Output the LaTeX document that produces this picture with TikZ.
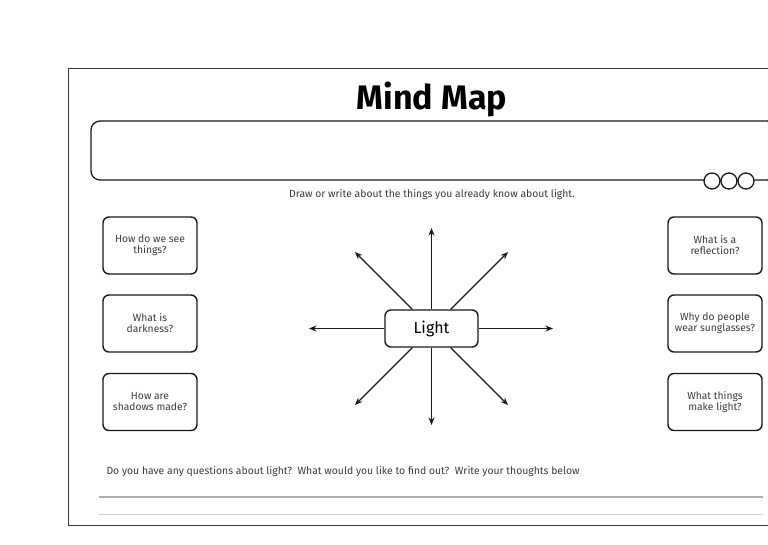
\documentclass[tikz,border=0pt]{standalone}
\usepackage{fontspec}
\setmainfont{Fira Sans}
\usepackage{xcolor}
\definecolor{cInk}{HTML}{1A1A1A}
\definecolor{cFrame}{HTML}{3A3A3A}
\definecolor{cRule}{HTML}{B0B0B0}
\usetikzlibrary{arrows.meta}
\tikzset{
  node-q/.style={draw=cInk,line width=1.4pt,rounded corners=6pt,
    minimum width=94pt,minimum height=57pt,align=center,text=cInk!85,
    font=\fontsize{10.3}{11}\selectfont},
  node-hub/.style={draw=cInk,line width=1.4pt,rounded corners=6pt,
    minimum width=93pt,minimum height=37pt,align=center,
    font=\fontsize{16}{17}\selectfont},
  node-banner/.style={draw=cInk,line width=1.3pt,rounded corners=9pt,
    minimum width=685pt,minimum height=59pt},
  node-bead/.style={draw=cInk,line width=1.3pt,fill=white,circle,
    minimum size=16pt,inner sep=0pt},
  node-note/.style={font=\fontsize{10.4}{12}\selectfont,text=cInk!85},
  arrow-ray/.style={-{Stealth[length=7.5pt,width=6pt]},line width=1.2pt,draw=cInk},
  rule-line/.style={draw=cRule,line width=1.5pt},
}

\begin{document}
\begin{tikzpicture}[x=1pt,y=-1pt]
  \clip (0,0) rectangle (768,544);
  \fill[white] (0,0) rectangle (768,544);
  % page frame, runs off on the right
  \draw[cFrame,line width=1pt] (68,68) rectangle (800,525);
  \node[anchor=base,font=\fontsize{34}{35}\selectfont\bfseries] (title) at (432,109) {Mind Map};
  \node[node-banner] (banner) at (433.5,150.5) {};
  \foreach \cx/\nm in {712/b1,729/b2,746/b3}
    \node[node-bead] (\nm) at (\cx,181) {};
  \node[node-note,anchor=base] (hint) at (432,197) {Draw or write about the things you already know about light.};

  % questions
  \node[node-q] (see) at (150,245.5) {How do we see\\things?};
  \node[node-q] (dark) at (150,323.5) {What is\\darkness?};
  \node[node-q] (shadow) at (150,402) {How are\\shadows made?};
  \node[node-q] (refl) at (715,245.5) {What is a\\reflection?};
  \node[node-q] (sun) at (715,323.5) {Why do people\\wear sunglasses?};
  \node[node-q] (make) at (715,402) {What things\\make light?};

  % centre and rays
  \node[node-hub] (light) at (431.5,328.5) {Light};
  \coordinate (rN) at (431.5,228);
  \coordinate (rS) at (431.5,425);
  \coordinate (rW) at (309,328.5);
  \coordinate (rE) at (553,328.5);
  \coordinate (rNW) at (355,252);
  \coordinate (rNE) at (508,252);
  \coordinate (rSW) at (355,405);
  \coordinate (rSE) at (508,405);
  \foreach \r in {rN,rS,rW,rE,rNW,rNE,rSW,rSE}
    \draw[arrow-ray] (light) -- (\r);

  \node[node-note,anchor=base west] (ask) at (103,474) {Do you have any questions about light?\ \ What would you like to find out?\ \ Write your thoughts below};
  \draw[rule-line] (99,497) -- (763,497);
  \draw[rule-line,draw=cRule!60,line width=1pt] (99,514) -- (763,514);
\end{tikzpicture}
\end{document}
